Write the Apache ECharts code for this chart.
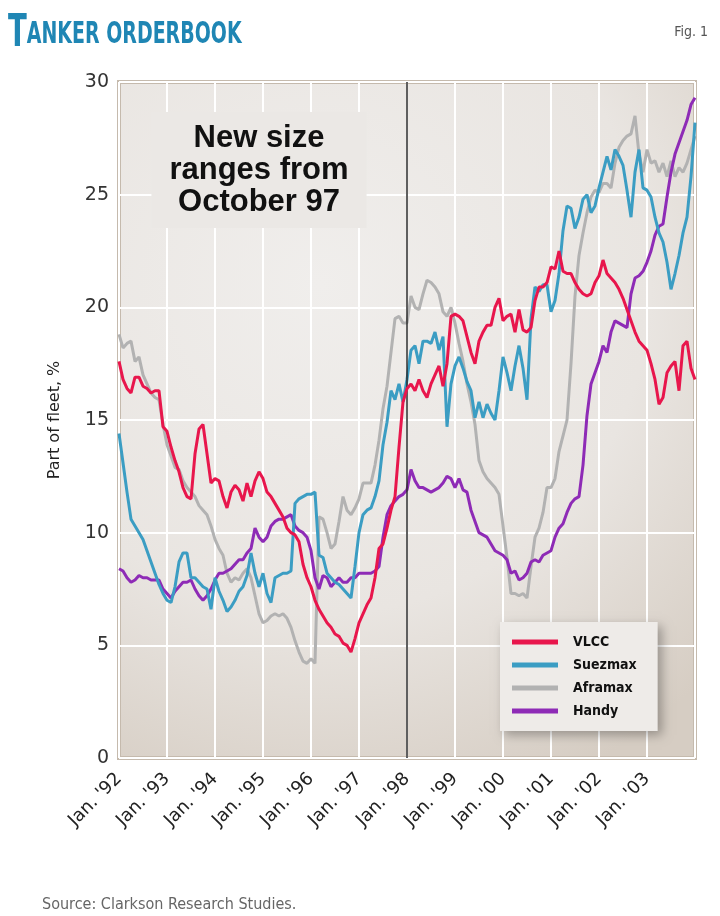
<!DOCTYPE html>
<html>
<head>
<meta charset="utf-8">
<script src="https://cdn.jsdelivr.net/npm/echarts@6/dist/echarts.min.js"></script>
<style>
  html, body { margin: 0; padding: 0; background: #fff; }
  #chart { width: 720px; height: 916px; }
</style>
</head>
<body>
<div id="chart"></div>
<script>
// monthly values, Jan 1992 .. Jan 2004 (share of fleet on order, %)
const vlcc = [17.6, 16.8, 16.4, 16.2, 16.9, 16.9, 16.5, 16.4, 16.2, 16.3, 16.3,
  14.7, 14.5, 13.8, 13.2, 12.7, 12.0, 11.6, 11.5, 13.5, 14.6,
  14.8, 13.5, 12.2, 12.4, 12.3, 11.6, 11.1, 11.8, 12.1, 11.9,
  11.4, 12.2, 11.6, 12.3, 12.7, 12.4, 11.8, 11.6, 11.3, 11.0,
  10.7, 10.2, 10.0, 9.9, 9.6, 8.6, 8.0, 7.6, 7.0, 6.6,
  6.3, 6.0, 5.8, 5.5, 5.4, 5.1, 5.0, 4.7, 5.3, 6.0,
  6.4, 6.8, 7.1, 8.0, 9.3, 9.5, 10.2, 11.0, 11.6, 13.8,
  15.8, 16.4, 16.6, 16.3, 16.8, 16.3, 16.0, 16.6, 17.0, 17.4,
  16.5, 17.5, 19.6, 19.7, 19.6, 19.4, 18.7, 18.0, 17.5, 18.5,
  18.9, 19.2, 19.2, 20.0, 20.4, 19.4, 19.6, 19.7, 18.9, 19.9,
  19.0, 18.9, 19.1, 20.3, 20.9, 20.9, 21.1, 21.8, 21.7, 22.5,
  21.6, 21.5, 21.5, 21.1, 20.8, 20.6, 20.5, 20.6, 21.1, 21.4,
  22.1, 21.5, 21.3, 21.1, 20.8, 20.4, 19.9, 19.4, 18.9, 18.5,
  18.3, 18.1, 17.5, 16.8, 15.7, 16.0, 17.1, 17.4, 17.6, 16.3,
  18.3, 18.5, 17.3, 16.8];
const suezmax = [14.4, 13.1, 11.8, 10.6, 10.3, 10.0, 9.7, 9.2, 8.7, 8.2, 7.7,
  7.3, 7.0, 6.9, 7.6, 8.7, 9.1, 9.1, 8.0, 8.0, 7.8,
  7.6, 7.5, 6.6, 8.0, 7.4, 7.0, 6.5, 6.7, 7.0, 7.4,
  7.6, 8.1, 9.1, 8.2, 7.6, 8.2, 7.3, 6.9, 8.0, 8.1,
  8.2, 8.2, 8.3, 11.3, 11.5, 11.6, 11.7, 11.7, 11.8, 9.0,
  8.9, 8.2, 8.0, 7.8, 7.7, 7.5, 7.3, 7.1, 8.5, 10.0,
  10.8, 11.0, 11.1, 11.6, 12.3, 13.9, 14.9, 16.3, 15.9, 16.6,
  15.8, 16.8, 18.1, 18.3, 17.5, 18.5, 18.5, 18.4, 18.9, 18.1,
  18.7, 14.7, 16.6, 17.4, 17.8, 17.3, 16.7, 16.3, 15.1, 15.8,
  15.1, 15.7, 15.3, 15.0, 16.3, 17.8, 17.1, 16.3, 17.4, 18.3,
  17.3, 15.9, 19.5, 20.9, 20.7, 21.0, 21.0, 19.8, 20.3, 21.5,
  23.4, 24.5, 24.4, 23.5, 24.0, 24.8, 25.0, 24.2, 24.5, 25.3,
  26.0, 26.7, 26.1, 27.0, 26.7, 26.3, 25.2, 24.0, 26.0, 27.0,
  25.3, 25.2, 24.9, 24.0, 23.3, 22.9, 22.0, 20.8, 21.5, 22.3,
  23.3, 24.0, 25.8, 28.2];
const aframax = [18.8, 18.2, 18.4, 18.5, 17.6, 17.8, 17.0, 16.6, 16.2, 16.0, 15.9,
  14.8, 13.9, 13.4, 12.9, 12.8, 12.3, 12.0, 11.8, 11.6, 11.2,
  11.0, 10.8, 10.3, 9.7, 9.3, 9.0, 8.2, 7.8, 8.0, 7.9,
  8.2, 8.4, 8.0, 7.2, 6.4, 6.0, 6.1, 6.3, 6.4, 6.3,
  6.4, 6.2, 5.8, 5.2, 4.7, 4.3, 4.2, 4.4, 4.2, 10.7,
  10.6, 10.0, 9.3, 9.5, 10.5, 11.6, 11.0, 10.8, 11.1, 11.5,
  12.2, 12.2, 12.2, 13.0, 14.1, 15.5, 16.5, 18.0, 19.5, 19.6,
  19.3, 19.3, 20.5, 20.0, 19.9, 20.6, 21.2, 21.1, 20.9, 20.6,
  19.8, 19.6, 20.0, 19.3, 18.4, 17.6, 16.6, 15.8, 14.8, 13.2,
  12.7, 12.4, 12.2, 12.0, 11.7, 10.3, 8.9, 7.3, 7.3, 7.2,
  7.3, 7.1, 8.5, 9.8, 10.2, 10.9, 12.0, 12.0, 12.4, 13.6,
  14.3, 15.0, 17.5, 20.5, 22.3, 23.3, 24.2, 24.9, 25.2, 25.1,
  25.5, 25.5, 25.3, 26.4, 27.1, 27.4, 27.6, 27.7, 28.5, 26.8,
  26.0, 27.0, 26.4, 26.5, 26.0, 26.4, 25.8, 26.5, 25.8, 26.2,
  26.0, 26.4, 27.0, 27.6];
const handy = [8.4, 8.3, 8.0, 7.8, 7.9, 8.1, 8.0, 8.0, 7.9, 7.9, 7.9,
  7.5, 7.3, 7.1, 7.4, 7.6, 7.8, 7.8, 7.9, 7.5, 7.2,
  7.0, 7.2, 7.5, 7.9, 8.2, 8.2, 8.3, 8.4, 8.6, 8.8,
  8.8, 9.1, 9.3, 10.2, 9.8, 9.6, 9.8, 10.3, 10.5, 10.6,
  10.6, 10.7, 10.8, 10.3, 10.1, 10.0, 9.8, 9.2, 8.0, 7.5,
  8.1, 8.0, 7.6, 7.8, 8.0, 7.8, 7.8, 8.0, 8.0, 8.2,
  8.2, 8.2, 8.2, 8.3, 8.5, 9.8, 10.8, 11.2, 11.4, 11.6,
  11.7, 11.9, 12.8, 12.3, 12.0, 12.0, 11.9, 11.8, 11.9, 12.0,
  12.2, 12.5, 12.4, 12.0, 12.4, 11.9, 11.8, 11.0, 10.5, 10.0,
  9.9, 9.8, 9.5, 9.2, 9.1, 9.0, 8.8, 8.2, 8.3, 7.9,
  8.0, 8.2, 8.7, 8.8, 8.7, 9.0, 9.1, 9.2, 9.8, 10.2,
  10.4, 10.9, 11.3, 11.5, 11.6, 13.0, 15.2, 16.6, 17.1, 17.6,
  18.3, 18.0, 18.9, 19.4, 19.3, 19.2, 19.1, 20.6, 21.3, 21.4,
  21.6, 22.0, 22.5, 23.2, 23.6, 23.7, 24.9, 26.0, 26.8, 27.3,
  27.8, 28.3, 29.0, 29.3];

const yearLabels = ["Jan. '92", "Jan. '93", "Jan. '94", "Jan. '95", "Jan. '96", "Jan. '97",
  "Jan. '98", "Jan. '99", "Jan. '00", "Jan. '01", "Jan. '02", "Jan. '03"];

// month categories 1992-01 .. 2004-01
const months = [];
for (let y = 1992; y <= 2004; y++) {
  for (let m = 1; m <= 12; m++) {
    if (y === 2004 && m > 1) break;
    months.push(y + '-' + (m < 10 ? '0' + m : m));
  }
}

const narrow = "'Liberation Sans Narrow', 'DejaVu Sans Condensed', sans-serif";
const isJan = function (idx) { return idx % 12 === 0; };

const chart = echarts.init(document.getElementById('chart'));

function line(name, data, color, z) {
  return {
    name: name, type: 'line', data: data, z: z,
    showSymbol: false, symbol: 'none',
    lineStyle: { color: color, width: 3 },
    itemStyle: { color: color }
  };
}

const series = [
  line('Aframax', aframax, '#b2b2b2', 2),
  line('Handy', handy, '#8e2bb6', 3),
  line('Suezmax', suezmax, '#3b9dc3', 4),
  line('VLCC', vlcc, '#e8164c', 5)
];
// new size ranges start here
series[3].markLine = {
  silent: true, symbol: 'none', label: { show: false },
  lineStyle: { color: '#2a2a2a', width: 1.5, type: 'solid' },
  data: [{ xAxis: '1998-01' }]
};

chart.setOption({
  backgroundColor: '#fff',
  animation: false,
  grid: {
    left: 119, right: 25, top: 82, bottom: 158,
    show: true,
    borderColor: '#c5baad', borderWidth: 4,
    backgroundColor: {
      type: 'radial', x: 0.35, y: 0.3, r: 0.95,
      colorStops: [
        { offset: 0, color: '#f0eeec' },
        { offset: 0.6, color: '#e9e5e1' },
        { offset: 1, color: '#d6cdc3' }
      ]
    }
  },
  legend: {
    data: ['VLCC', 'Suezmax', 'Aframax', 'Handy'],
    orient: 'vertical',
    left: 500, top: 622,
    padding: [13, 21, 13, 12],
    itemWidth: 46, itemHeight: 5, itemGap: 9,
    icon: 'rect',
    backgroundColor: '#eeebe8',
    shadowColor: 'rgba(0,0,0,0.3)', shadowBlur: 10, shadowOffsetX: 4, shadowOffsetY: 4,
    textStyle: { fontFamily: narrow, fontWeight: 'bold', fontSize: 14, color: '#111', padding: [0, 0, 0, 10] }
  },
  xAxis: {
    type: 'category',
    data: months,
    boundaryGap: false,
    axisLine: { show: false },
    axisTick: { show: false },
    axisLabel: {
      interval: isJan,
      rotate: 45,
      margin: 18,
      fontFamily: 'DejaVu Sans', fontSize: 18, color: '#222',
      formatter: function (val, idx) { return yearLabels[idx / 12] || ''; }
    },
    splitLine: { show: true, interval: isJan, lineStyle: { color: '#ffffff', width: 2 } }
  },
  yAxis: {
    type: 'value',
    min: 0, max: 30, interval: 5,
    name: 'Part of fleet, %',
    nameLocation: 'middle', nameGap: 56,
    nameTextStyle: { fontFamily: 'DejaVu Sans', fontSize: 16, color: '#222' },
    axisLine: { show: false },
    axisTick: { show: false },
    axisLabel: { margin: 10, fontFamily: 'DejaVu Sans', fontSize: 19, color: '#333' },
    splitLine: { lineStyle: { color: '#ffffff', width: 2 } }
  },
  graphic: [
    {
      type: 'text', left: 8, top: 12, scaleX: 0.68,
      style: {
        text: '{a|T}{b|ANKER ORDERBOOK}',
        rich: {
          a: { fontFamily: narrow, fontWeight: 'bold', fontSize: 45, fill: '#1f86b4' },
          b: { fontFamily: narrow, fontWeight: 'bold', fontSize: 31, fill: '#1f86b4' }
        }
      }
    },
    {
      type: 'text', right: 12, top: 25,
      style: { text: 'Fig. 1', fontFamily: narrow, fontSize: 14, fill: '#555' }
    },
    {
      type: 'text', x: 259, y: 170,
      style: {
        text: 'New size\nranges from\nOctober 97',
        align: 'center', verticalAlign: 'middle',
        fontFamily: 'Liberation Sans, Arial, sans-serif', fontWeight: 'bold',
        fontSize: 31, lineHeight: 32, fill: '#111',
        backgroundColor: '#ebe8e5', padding: [10, 18, 10, 18]
      },
      z: 10
    },
    {
      type: 'text', left: 42, top: 897,
      style: { text: 'Source: Clarkson Research Studies.', fontFamily: narrow, fontSize: 16, fill: '#666' }
    }
  ],
  series: series
});
</script>
</body>
</html>
